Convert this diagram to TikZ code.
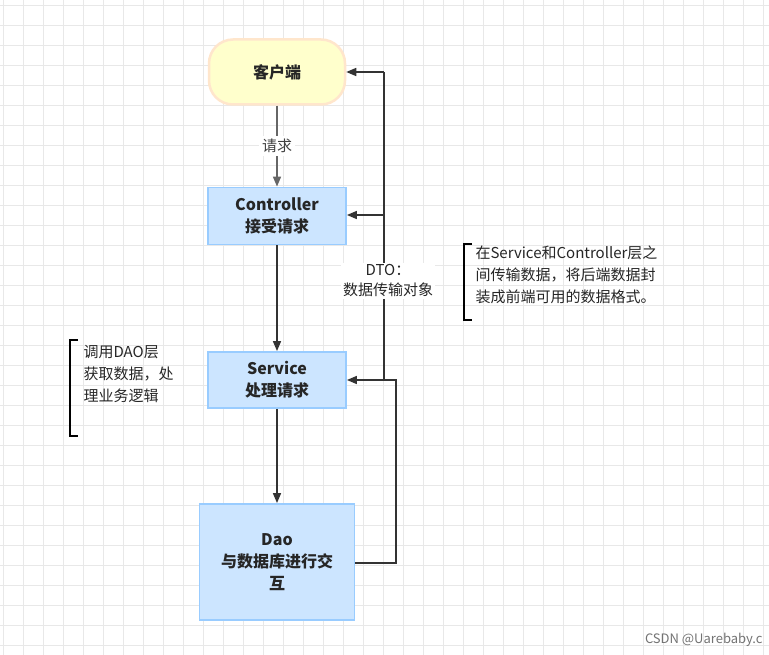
\documentclass[tikz,border=0pt]{standalone}
\usepackage{fontspec}
\setmainfont{Liberation Sans}
\newfontfamily\cjk{Noto Sans CJK SC}
\usetikzlibrary{arrows.meta}
\definecolor{bfill}{HTML}{CCE5FF}
\definecolor{bline}{HTML}{99CCFF}
\definecolor{yfill}{HTML}{FFFFCC}
\definecolor{yline}{HTML}{FFE6CC}
\begin{document}
\begin{tikzpicture}[x=1pt,y=-1pt,font=\cjk\fontsize{15}{20}\selectfont,
 box/.style={draw=bline,fill=bfill,line width=1.8pt,align=center,text=black!85,font=\cjk\bfseries\fontsize{16}{22}\selectfont},
 arr/.style={-{Triangle[length=10pt,width=8pt]},line width=1.5pt,draw=black!80},
 note/.style={align=left,anchor=north west,text=black!85,font=\cjk\fontsize{15}{22}\selectfont}]
\useasboundingbox (0,0) rectangle (769,655);
\fill[white] (0,0) rectangle (769,655);
\foreach \i in {0,...,39} {\draw[black!9,line width=0.6pt] (\i*20+3,0) -- (\i*20+3,655);}
\foreach \j in {0,...,33} {\draw[black!9,line width=0.6pt] (0,\j*20+5) -- (769,\j*20+5);}
\node[box,draw=yline,fill=yfill,line width=2.5pt,rounded corners=24pt,minimum width=136pt,minimum height=65pt] (cl) at (277,72) {客户端};
\node[box,minimum width=138pt,minimum height=57pt] (ct) at (277,216) {Controller\\接受请求};
\node[box,minimum width=138pt,minimum height=56pt] (sv) at (277,380) {Service\\处理请求};
\node[box,minimum width=155pt,minimum height=116pt] (dao) at (277,562) {Dao\\与数据库进行交\\互};
\draw[arr,draw=black!60] (cl) -- node[fill=white,text=black!75]{请求} (ct);
\draw[arr] (ct) -- (sv);
\draw[arr] (sv) -- (dao);
\coordinate (d1) at (396,563); \coordinate (d2) at (396,380);
\draw[arr] (dao.east|-d1) -- (d1) -- (d2) -- (sv.east);
\coordinate (v0) at (384,380); \coordinate (v1) at (384,72);
\draw[line width=1.5pt,draw=black!80] (v0) -- (v1);
\draw[arr] (v1) -- (cl.east);
\coordinate (v2) at (384,215);
\draw[arr] (v2) -- (ct.east|-v2);
\node[fill=white,align=center,text=black!85,inner sep=2pt] (dto) at (388,281) {DTO：\\数据传输对象};
\draw[line width=1.6pt] (78,340) -- (70,340) -- (70,436) -- (78,436);
\node[note] (n1) at (80,342) {调用DAO层\\获取数据，处\\理业务逻辑};
\draw[line width=1.6pt] (472,244) -- (464,244) -- (464,320) -- (472,320);
\node[note] (n2) at (472,242) {在Service和Controller层之\\间传输数据，将后端数据封\\装成前端可用的数据格式。};
\node[text=black!55,font=\cjk\fontsize{13}{15}\selectfont,anchor=south east] (wm) at (766,650) {CSDN @Uarebaby.c};
\end{tikzpicture}
\end{document}
